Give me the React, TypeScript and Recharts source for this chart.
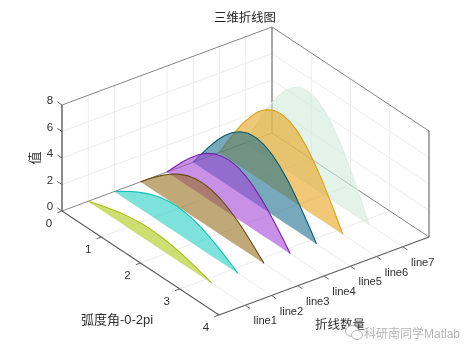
import React from "react";
import { ComposedChart, Area, Line, Scatter, XAxis, YAxis } from "recharts";

// ---------- values ----------
const angles = [0, 0.2, 0.4, 0.6, 0.8, 1.0, 1.2, 1.4, 1.6, 1.8, 2.0, 2.2, 2.4, 2.6, 2.8, 3.0, 3.14];
const line1 = [0, 0.2, 0.39, 0.56, 0.72, 0.84, 0.93, 0.99, 1.0, 0.97, 0.91, 0.81, 0.68, 0.52, 0.33, 0.14, 0];
const line2 = [0, 0.4, 0.78, 1.13, 1.43, 1.68, 1.86, 1.97, 2.0, 1.95, 1.82, 1.62, 1.35, 1.03, 0.67, 0.28, 0];
const line3 = [0, 0.6, 1.17, 1.69, 2.15, 2.52, 2.8, 2.96, 3.0, 2.92, 2.73, 2.43, 2.03, 1.55, 1.0, 0.42, 0];
const line4 = [0, 0.79, 1.56, 2.26, 2.87, 3.37, 3.73, 3.94, 4.0, 3.9, 3.64, 3.23, 2.7, 2.06, 1.34, 0.56, 0];
const line5 = [0, 0.99, 1.95, 2.82, 3.59, 4.21, 4.66, 4.93, 5.0, 4.87, 4.55, 4.04, 3.38, 2.58, 1.67, 0.71, 0];
const line6 = [0, 1.19, 2.34, 3.39, 4.3, 5.05, 5.59, 5.91, 6.0, 5.84, 5.46, 4.85, 4.05, 3.09, 2.01, 0.85, 0];
const line7 = [0, 1.39, 2.73, 3.95, 5.02, 5.89, 6.52, 6.9, 7.0, 6.82, 6.37, 5.66, 4.73, 3.6, 2.34, 0.99, 0];
const seriesValues = [line1, line2, line3, line4, line5, line6, line7];

const zTicks = [0, 2, 4, 6, 8];
const thetaTicks = [0, 1, 2, 3, 4];
const lineTicks = [1, 2, 3, 4, 5, 6, 7];
const lineLabels = ["line1", "line2", "line3", "line4", "line5", "line6", "line7"];

const THETA_MAX = 4;
const LINE_MAX = 8;
const Z_MAX = 8;

const title = "三维折线图";
const thetaTitle = "弧度角-0-2pi";
const lineTitle = "折线数量";
const zTitle = "值";
const watermark = "科研南同学Matlab";

// ---------- styles ----------
const fills = ["#adca14", "#25cfc1", "#966e1e", "#a546d9", "#1e6e8e", "#e6a31c", "#d2ebdc"];
const strokes = ["#a9bd1a", "#12c0bc", "#6b4a12", "#7a22a8", "#0b5a6e", "#d9a214", "#dcefe4"];
const FONT = "'Liberation Sans','Noto Sans CJK SC',sans-serif";
const INK = "#303030";

// orthographic view of the box: (angle, line number, value) -> page position
const project = (t: number, l: number, z: number) => ({
  sx: 62 + t * 39.25 + l * 26.25,
  sy: 211 + t * 26 - l * 9.75 - z * 13.25,
});
const seg = (a: number[], b: number[]) => [project(a[0], a[1], a[2]), project(b[0], b[1], b[2])];

const gridSegments = [
  ...zTicks.slice(1, -1).flatMap((z) => [seg([0, 0, z], [0, LINE_MAX, z]), seg([0, LINE_MAX, z], [THETA_MAX, LINE_MAX, z])]),
  ...lineTicks.flatMap((l) => [seg([0, l, 0], [0, l, Z_MAX]), seg([0, l, 0], [THETA_MAX, l, 0])]),
  ...thetaTicks.slice(1, -1).flatMap((t) => [seg([t, 0, 0], [t, LINE_MAX, 0]), seg([t, LINE_MAX, 0], [t, LINE_MAX, Z_MAX])]),
];

const backEdges = [
  seg([0, 0, Z_MAX], [0, LINE_MAX, Z_MAX]),
  seg([0, LINE_MAX, Z_MAX], [THETA_MAX, LINE_MAX, Z_MAX]),
  seg([0, LINE_MAX, 0], [0, LINE_MAX, Z_MAX]),
  seg([THETA_MAX, LINE_MAX, 0], [THETA_MAX, LINE_MAX, Z_MAX]),
  seg([0, 0, 0], [0, LINE_MAX, 0]),
  seg([0, LINE_MAX, 0], [THETA_MAX, LINE_MAX, 0]),
];
const axisEdges = [
  seg([0, 0, 0], [0, 0, Z_MAX]),
  seg([0, 0, 0], [THETA_MAX, 0, 0]),
  seg([THETA_MAX, 0, 0], [THETA_MAX, LINE_MAX, 0]),
];
const TICK = 0.12;
const tickSegments = [
  ...zTicks.map((z) => seg([0, 0, z], [-TICK, 0, z])),
  ...thetaTicks.map((t) => seg([t, 0, 0], [t, -TICK * 1.5, 0])),
  ...lineTicks.map((l) => seg([THETA_MAX, l, 0], [THETA_MAX + TICK, l, 0])),
];

const tables = seriesValues.map((vals, i) =>
  angles.map((t, k) => {
    const base = project(t, i + 1, 0);
    const top = project(t, i + 1, vals[k]);
    return { sx: top.sx, sy: top.sy, range: [base.sy, top.sy] };
  })
);

const labelAt = (p: { sx: number; sy: number }, dx: number, dy: number, text: string) => ({
  sx: p.sx + dx,
  sy: p.sy + dy,
  text,
});
const zLabels = zTicks.map((z) => labelAt(project(0, 0, z), -12, -5, String(z)));
const thetaLabels = thetaTicks.map((t) => labelAt(project(t, 0, 0), -13, 12, String(t)));
const lineTickLabels = lineTicks.map((l, i) => labelAt(project(THETA_MAX, l, 0), 20, 15, lineLabels[i]));

const textShape =
  (size: number, color = INK, rotate = 0) =>
  (props: any) => (
    <text
      x={props.cx}
      y={props.cy}
      textAnchor="middle"
      dominantBaseline="central"
      fontFamily={FONT}
      fontSize={size}
      fill={color}
      transform={rotate ? `rotate(${rotate} ${props.cx} ${props.cy})` : undefined}
    >
      {props.payload.text}
    </text>
  );

const wechatShape = (props: any) => (
  <g fill="#fff" stroke="#b4b4b4" strokeWidth={1}>
    <ellipse cx={props.cx - 2} cy={props.cy - 2} rx={6.5} ry={5.5} />
    <ellipse cx={props.cx + 3} cy={props.cy + 2} rx={5.5} ry={4.5} />
  </g>
);

export default function App() {
  let z = 10;
  const next = () => z++;
  const plain = { isAnimationActive: false, dot: false, activeDot: false, legendType: "none" as const };
  return (
    <div style={{ position: "absolute", left: 0, top: 0, width: 474, height: 355, background: "#fff", filter: "blur(0.4px)" }}>
      <ComposedChart width={474} height={355} margin={{ top: 0, right: 0, bottom: 0, left: 0 }}>
        <XAxis type="number" dataKey="sx" domain={[0, 474]} hide allowDataOverflow />
        <YAxis type="number" domain={[0, 355]} reversed hide allowDataOverflow />
        {gridSegments.map((d, i) => (
          <Line key={`g${i}`} {...plain} zIndex={next()} data={d} dataKey="sy" stroke="#ececec" strokeWidth={1} />
        ))}
        {backEdges.map((d, i) => (
          <Line key={`b${i}`} {...plain} zIndex={next()} data={d} dataKey="sy" stroke="#858585" strokeWidth={i === 2 || i === 3 ? 1.4 : 1} />
        ))}
        {axisEdges.map((d, i) => (
          <Line key={`a${i}`} {...plain} zIndex={next()} data={d} dataKey="sy" stroke="#5c5c5c" strokeWidth={i === 0 ? 1.4 : 1.1} />
        ))}
        {tickSegments.map((d, i) => (
          <Line key={`t${i}`} {...plain} zIndex={next()} data={d} dataKey="sy" stroke="#666" strokeWidth={1} />
        ))}
        {tables
          .map((d, i) => ({ d, i }))
          .reverse()
          .flatMap(({ d, i }) => [
            <Area
              key={`f${i}`}
              {...plain}
              zIndex={next()}
              data={d}
              dataKey="range"
              type="linear"
              stroke="none"
              fill={fills[i]}
              fillOpacity={0.6}
            />,
            <Line key={`s${i}`} {...plain} zIndex={next()} data={d} dataKey="sy" type="linear" stroke={strokes[i]} strokeWidth={1.1} />,
          ])}
        <Scatter zIndex={next()} isAnimationActive={false} data={zLabels} dataKey="sy" shape={textShape(11.5)} />
        <Scatter zIndex={next()} isAnimationActive={false} data={thetaLabels} dataKey="sy" shape={textShape(11.5)} />
        <Scatter zIndex={next()} isAnimationActive={false} data={lineTickLabels} dataKey="sy" shape={textShape(11.2)} />
        <Scatter zIndex={next()} isAnimationActive={false} data={[{ sx: 245, sy: 18, text: title }]} dataKey="sy" shape={textShape(12.4, "#222")} />
        <Scatter zIndex={next()} isAnimationActive={false} data={[{ sx: 117, sy: 319, text: thetaTitle }]} dataKey="sy" shape={textShape(13)} />
        <Scatter zIndex={next()} isAnimationActive={false} data={[{ sx: 340, sy: 325, text: lineTitle }]} dataKey="sy" shape={textShape(12.5)} />
        <Scatter zIndex={next()} isAnimationActive={false} data={[{ sx: 34, sy: 158, text: zTitle }]} dataKey="sy" shape={textShape(13, INK, -90)} />
        <Scatter zIndex={next()} isAnimationActive={false} data={[{ sx: 354, sy: 333, text: "" }]} dataKey="sy" shape={wechatShape} />
        <Scatter zIndex={next()} isAnimationActive={false} data={[{ sx: 412, sy: 334, text: watermark }]} dataKey="sy" shape={textShape(12, "#b4b4b4")} />
      </ComposedChart>
    </div>
  );
}
